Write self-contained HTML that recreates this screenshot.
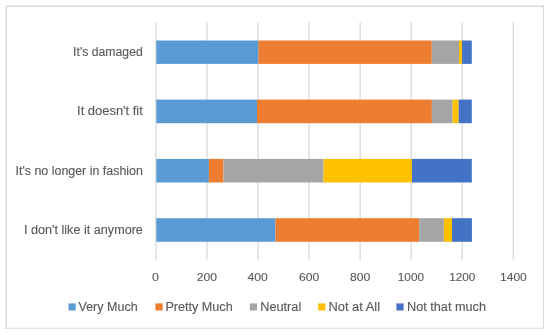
<!DOCTYPE html>
<html lang="en">
<head>
<meta charset="utf-8">
<title>Chart</title>
<style>
html,body{margin:0;padding:0;background:#fff;}
body{width:550px;height:335px;overflow:hidden;}
svg{display:block;}
svg text{font-family:"Liberation Sans",sans-serif;font-size:12.0px;fill:#595959;stroke:#595959;stroke-width:0.12px;}
svg text.ax{font-size:11.7px;}
</style>
</head>
<body>
<svg width="550" height="335" viewBox="0 0 550 335">
<rect x="0" y="0" width="550" height="335" fill="#ffffff"/>
<g stroke="#D9D9D9" fill="none"><path d="M6.3 328.9V6.3H544" stroke-width="1.5"/><path d="M543.45 6.3V328.2H5.55" stroke-width="1.05"/></g>
<g stroke="#D9D9D9" stroke-width="1.3">
<line x1="155.90" y1="22.2" x2="155.90" y2="259.7"/>
<line x1="206.96" y1="22.2" x2="206.96" y2="259.7"/>
<line x1="258.02" y1="22.2" x2="258.02" y2="259.7"/>
<line x1="309.08" y1="22.2" x2="309.08" y2="259.7"/>
<line x1="360.14" y1="22.2" x2="360.14" y2="259.7"/>
<line x1="411.20" y1="22.2" x2="411.20" y2="259.7"/>
<line x1="462.26" y1="22.2" x2="462.26" y2="259.7"/>
<line x1="513.32" y1="22.2" x2="513.32" y2="259.7"/>
</g>
<g>
<rect x="156.3" y="40.5" width="102.2" height="23.4" fill="#5B9BD5"/>
<rect x="258.5" y="40.5" width="173.3" height="23.4" fill="#ED7D31"/>
<rect x="431.8" y="40.5" width="27.2" height="23.4" fill="#A5A5A5"/>
<rect x="459.0" y="40.5" width="3.1" height="23.4" fill="#FFC000"/>
<rect x="462.1" y="40.5" width="9.7" height="23.4" fill="#4472C4"/>
</g>
<g>
<rect x="156.3" y="99.6" width="100.7" height="23.6" fill="#5B9BD5"/>
<rect x="257.0" y="99.6" width="174.9" height="23.6" fill="#ED7D31"/>
<rect x="431.9" y="99.6" width="20.7" height="23.6" fill="#A5A5A5"/>
<rect x="452.6" y="99.6" width="6.1" height="23.6" fill="#FFC000"/>
<rect x="458.7" y="99.6" width="13.1" height="23.6" fill="#4472C4"/>
</g>
<g>
<rect x="156.3" y="158.9" width="52.6" height="23.6" fill="#5B9BD5"/>
<rect x="208.9" y="158.9" width="14.6" height="23.6" fill="#ED7D31"/>
<rect x="223.5" y="158.9" width="100.0" height="23.6" fill="#A5A5A5"/>
<rect x="323.5" y="158.9" width="88.4" height="23.6" fill="#FFC000"/>
<rect x="411.9" y="158.9" width="59.9" height="23.6" fill="#4472C4"/>
</g>
<g>
<rect x="156.3" y="218.2" width="119.2" height="23.6" fill="#5B9BD5"/>
<rect x="275.5" y="218.2" width="143.7" height="23.6" fill="#ED7D31"/>
<rect x="419.2" y="218.2" width="24.7" height="23.6" fill="#A5A5A5"/>
<rect x="443.9" y="218.2" width="8.1" height="23.6" fill="#FFC000"/>
<rect x="452.0" y="218.2" width="19.9" height="23.6" fill="#4472C4"/>
</g>
<text x="73.1" y="55.6" textLength="69.7" lengthAdjust="spacingAndGlyphs">It&#39;s damaged</text>
<text x="77.1" y="114.7" textLength="65.7" lengthAdjust="spacingAndGlyphs">It doesn&#39;t fit</text>
<text x="15.5" y="174.6" textLength="127.4" lengthAdjust="spacingAndGlyphs">It&#39;s no longer in fashion</text>
<text x="24.0" y="233.9" textLength="118.9" lengthAdjust="spacingAndGlyphs">I don&#39;t like it anymore</text>
<text class="ax" x="152.1" y="280.6" textLength="7.0" lengthAdjust="spacingAndGlyphs">0</text>
<text class="ax" x="196.7" y="280.6" textLength="20.2" lengthAdjust="spacingAndGlyphs">200</text>
<text class="ax" x="247.6" y="280.6" textLength="20.3" lengthAdjust="spacingAndGlyphs">400</text>
<text class="ax" x="299.0" y="280.6" textLength="20.3" lengthAdjust="spacingAndGlyphs">600</text>
<text class="ax" x="349.9" y="280.6" textLength="20.3" lengthAdjust="spacingAndGlyphs">800</text>
<text class="ax" x="397.8" y="280.6" textLength="26.2" lengthAdjust="spacingAndGlyphs">1000</text>
<text class="ax" x="449.2" y="280.6" textLength="26.2" lengthAdjust="spacingAndGlyphs">1200</text>
<text class="ax" x="500.1" y="280.6" textLength="26.7" lengthAdjust="spacingAndGlyphs">1400</text>
<rect x="68.5" y="303.4" width="7.2" height="7.1" fill="#5B9BD5"/>
<text x="78.5" y="310.5" textLength="59.1" lengthAdjust="spacingAndGlyphs">Very Much</text>
<rect x="155.4" y="303.4" width="7.2" height="7.1" fill="#ED7D31"/>
<text x="165.4" y="310.5" textLength="67.3" lengthAdjust="spacingAndGlyphs">Pretty Much</text>
<rect x="249.8" y="303.4" width="7.2" height="7.1" fill="#A5A5A5"/>
<text x="260.2" y="310.5" textLength="41.1" lengthAdjust="spacingAndGlyphs">Neutral</text>
<rect x="318.2" y="303.4" width="7.2" height="7.1" fill="#FFC000"/>
<text x="328.5" y="310.5" textLength="51.5" lengthAdjust="spacingAndGlyphs">Not at All</text>
<rect x="396.4" y="303.4" width="7.2" height="7.1" fill="#4472C4"/>
<text x="407.0" y="310.5" textLength="79.0" lengthAdjust="spacingAndGlyphs">Not that much</text>
</svg>
</body>
</html>
